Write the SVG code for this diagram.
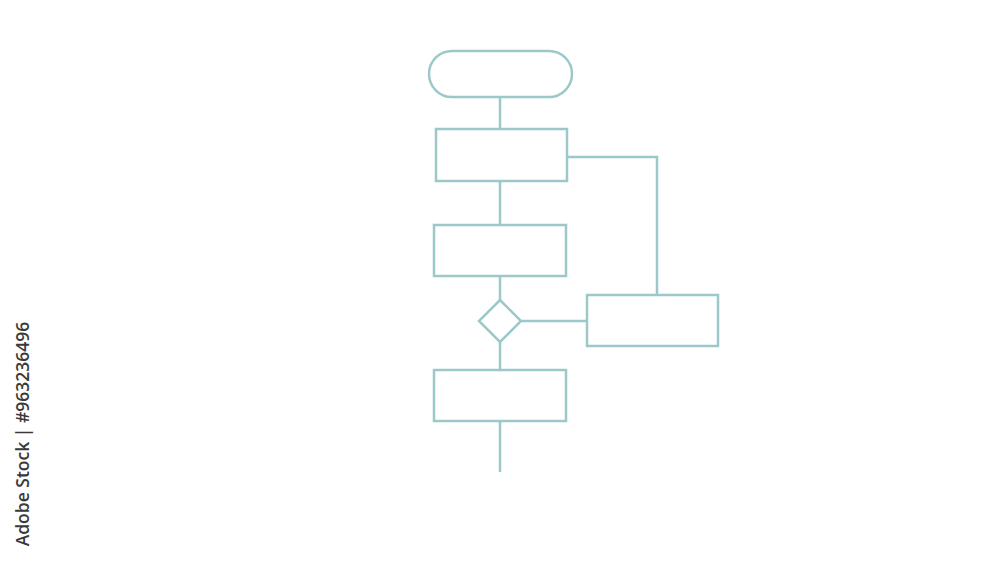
<svg xmlns="http://www.w3.org/2000/svg" width="1000" height="562" viewBox="0 0 1000 562">
<style>
.s{fill:none;stroke:#9dc8ca;stroke-width:2.5;}
.n{fill:#ffffff;stroke:#9dc8ca;stroke-width:2.5;}
.wm{font-family:"Open Sans","Liberation Sans",sans-serif;font-size:17.5px;font-weight:600;fill:#3a3a3a;}
</style>
<rect width="1000" height="562" fill="#ffffff"/>
<g id="connectors">
<path class="s" d="M500,97 V129"/>
<path class="s" d="M500,181 V225"/>
<path class="s" d="M567,157 H657 V295"/>
<path class="s" d="M500,276 V300"/>
<path class="s" d="M521,321 H587"/>
<path class="s" d="M500,342 V370"/>
<path class="s" d="M500,421 V472"/>
</g>
<g id="start"><rect class="n" x="429" y="51" width="143" height="46" rx="23"/></g>
<g id="process1"><rect class="n" x="436" y="129" width="131" height="52"/></g>
<g id="process2"><rect class="n" x="434" y="225" width="132" height="51"/></g>
<g id="decision"><polygon class="n" points="500,300 521,321 500,342 479,321"/></g>
<g id="process3"><rect class="n" x="587" y="295" width="131" height="51"/></g>
<g id="process4"><rect class="n" x="434" y="370" width="132" height="51"/></g>
<text class="wm" transform="translate(29,434) rotate(-90)" text-anchor="middle">Adobe Stock | #963236496</text>
</svg>
